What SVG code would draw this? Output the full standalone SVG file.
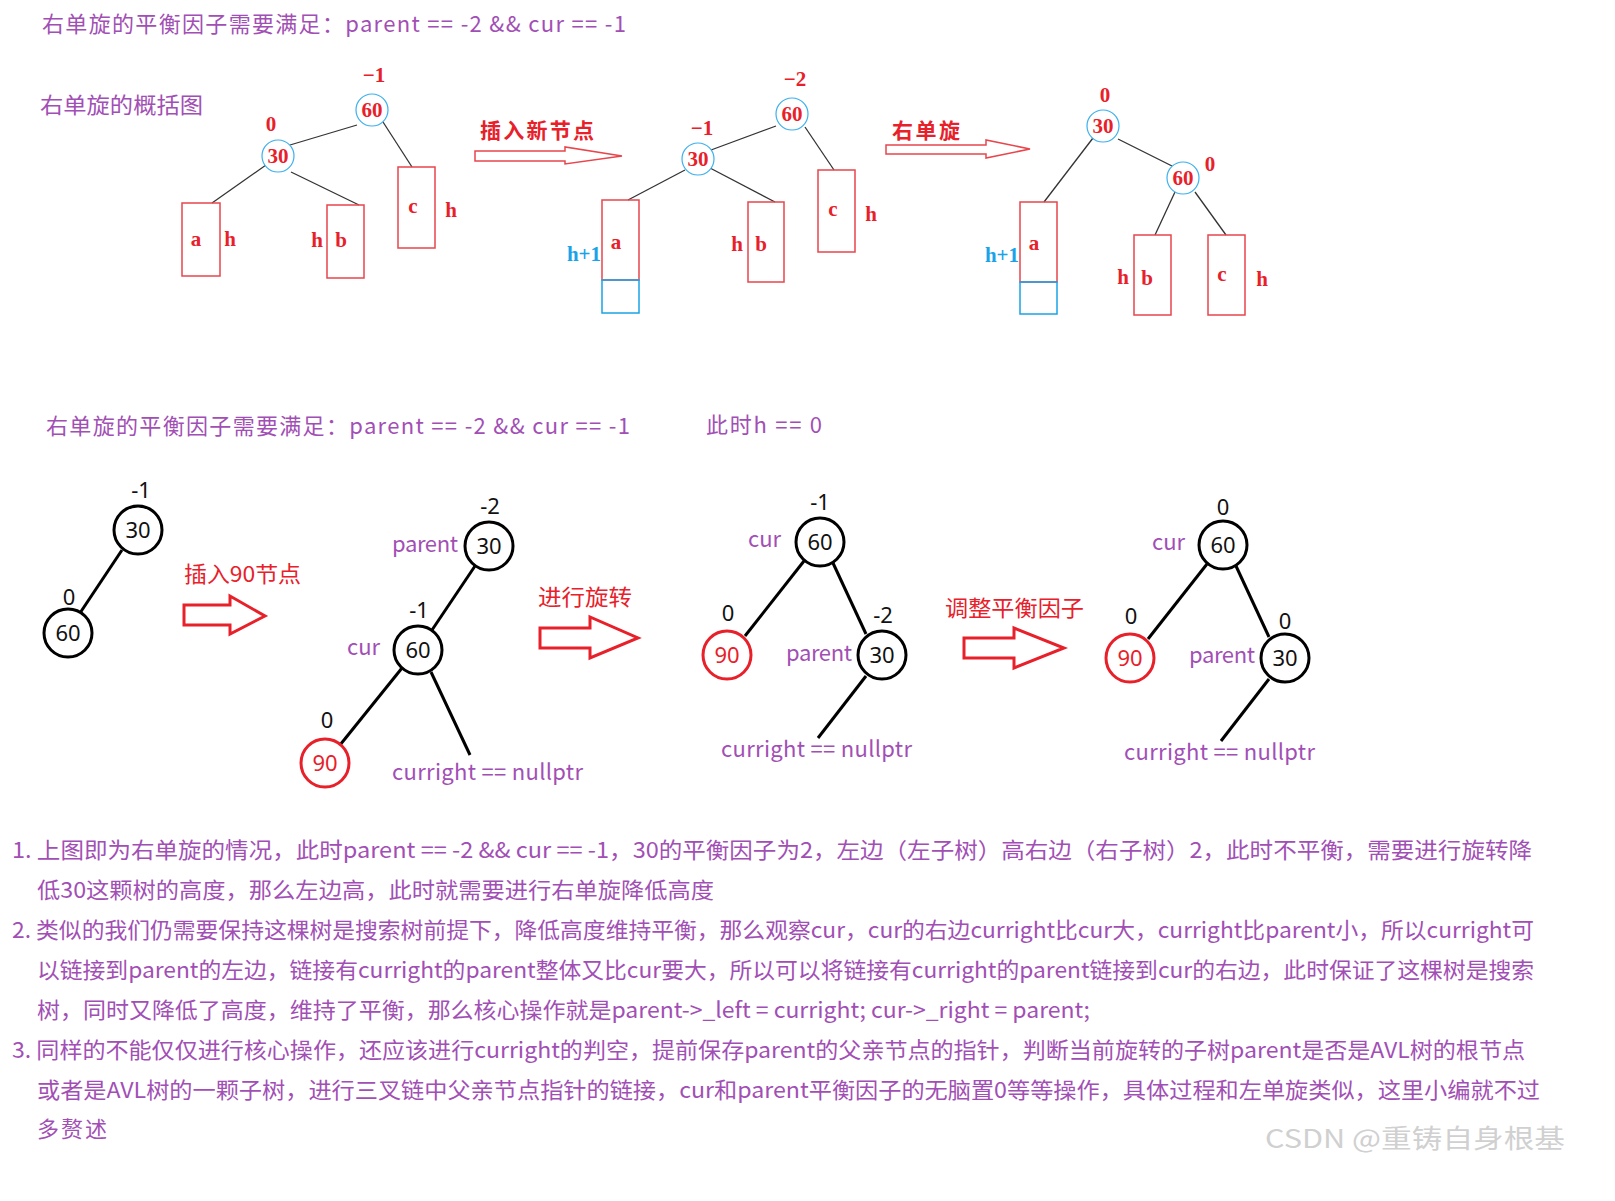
<svg xmlns="http://www.w3.org/2000/svg" width="1615" height="1201" viewBox="0 0 1615 1201">
<style>
.p{font-family:"Noto Sans CJK SC","Noto Sans",sans-serif;fill:#a24fb5;font-size:22px}
.r{font-family:"Noto Sans CJK SC","Noto Sans",sans-serif;fill:#e8202a;font-size:22px}
.s{font-family:"Liberation Serif","Noto Sans CJK SC",serif;fill:#e8202a;font-size:21px;font-weight:bold}
.sb{font-family:"Liberation Serif",serif;fill:#1aa3e8;font-size:21px;font-weight:bold}
.k{font-family:"Noto Sans","Noto Sans CJK SC",sans-serif;fill:#111;font-size:22px}
.kr{font-family:"Noto Sans",sans-serif;fill:#e8202a;font-size:22px}
.bx{fill:none;stroke:#e8454c;stroke-width:1.5}
.bb{fill:none;stroke:#1aa3e8;stroke-width:1.5}
.bc{fill:#fff;stroke:#3bb0ee;stroke-width:1.2}
.tl{stroke:#333;stroke-width:1.3}
.nb{fill:#fff;stroke:#000;stroke-width:3}
.nr{fill:#fff;stroke:#e8202a;stroke-width:3}
.bl{stroke:#000;stroke-width:3}
.ar{fill:#fff;stroke:#e8202a;stroke-width:3}
.at{fill:#fff;stroke:#e8454c;stroke-width:1.5}
.w{font-family:"Noto Sans CJK SC",sans-serif;fill:#d0d0d0;font-size:26px}
</style>
<text class="p" x="42" y="32" textLength="584" lengthAdjust="spacing">右单旋的平衡因子需要满足：parent == -2 &amp;&amp; cur == -1</text>
<text class="p" x="40" y="113" textLength="163" lengthAdjust="spacingAndGlyphs">右单旋的概括图</text>
<g id="connectors">
<line class="tl" x1="290" y1="145" x2="357" y2="125"/>
<line class="tl" x1="383" y1="122" x2="412" y2="167"/>
<line class="tl" x1="266" y1="165" x2="212" y2="203"/>
<line class="tl" x1="291" y1="172" x2="359" y2="205"/>
<line class="tl" x1="685" y1="170" x2="628" y2="200"/>
<line class="tl" x1="710" y1="168" x2="775" y2="202"/>
<line class="tl" x1="711" y1="150" x2="776" y2="126"/>
<line class="tl" x1="805" y1="127" x2="834" y2="170"/>
<line class="tl" x1="1093" y1="138" x2="1044" y2="202"/>
<line class="tl" x1="1118" y1="139" x2="1172" y2="166"/>
<line class="tl" x1="1175" y1="192" x2="1155" y2="235"/>
<line class="tl" x1="1195" y1="192" x2="1226" y2="235"/>
<line class="bl" x1="122" y1="550" x2="80" y2="613"/>
<line class="bl" x1="475" y1="566" x2="432" y2="630"/>
<line class="bl" x1="402" y1="668" x2="340" y2="745"/>
<line class="bl" x1="431" y1="672" x2="470" y2="755"/>
<line class="bl" x1="804" y1="561" x2="745" y2="636"/>
<line class="bl" x1="833" y1="563" x2="866" y2="634"/>
<line class="bl" x1="866" y1="676" x2="818" y2="738"/>
<line class="bl" x1="1207" y1="564" x2="1148" y2="639"/>
<line class="bl" x1="1236" y1="566" x2="1269" y2="637"/>
<line class="bl" x1="1269" y1="679" x2="1221" y2="741"/>
<polygon class="at" points="475,151 565,151 565,147 622,156 565,164 565,161 475,161"/>
<polygon class="at" points="886,145 986,145 986,140 1030,149 986,158 986,154 886,154"/>
<polygon class="ar" points="184,605 230,605 230,596 265,616 230,634 230,625 184,625"/>
<polygon class="ar" points="540,628 590,628 590,617 638,638 590,658 590,648 540,648"/>
<polygon class="ar" points="964,638 1014,638 1014,628 1064,648 1014,668 1014,658 964,658"/>
</g>
<g id="t1">
<circle class="bc" cx="372" cy="110" r="16"/><text class="s" x="372" y="117" text-anchor="middle">60</text>
<text class="s" x="374" y="82" text-anchor="middle">−1</text>
<circle class="bc" cx="278" cy="156" r="16"/><text class="s" x="278" y="163" text-anchor="middle">30</text>
<text class="s" x="271" y="131" text-anchor="middle">0</text>
<rect class="bx" x="182" y="203" width="38" height="73"/><text class="s" x="196" y="246" text-anchor="middle">a</text><text class="s" x="230" y="246" text-anchor="middle">h</text>
<rect class="bx" x="327" y="205" width="37" height="73"/><text class="s" x="317" y="247" text-anchor="middle">h</text><text class="s" x="341" y="247" text-anchor="middle">b</text>
<rect class="bx" x="398" y="167" width="37" height="81"/><text class="s" x="413" y="213" text-anchor="middle">c</text><text class="s" x="451" y="217" text-anchor="middle">h</text>
<text class="s" x="480" y="138" textLength="114" lengthAdjust="spacing">插入新节点</text>
</g>
<g id="t2">
<circle class="bc" cx="792" cy="114" r="16"/><text class="s" x="792" y="121" text-anchor="middle">60</text>
<text class="s" x="795" y="86" text-anchor="middle">−2</text>
<circle class="bc" cx="698" cy="159" r="16"/><text class="s" x="698" y="166" text-anchor="middle">30</text>
<text class="s" x="702" y="135" text-anchor="middle">−1</text>
<rect class="bx" x="602" y="200" width="37" height="80"/><rect class="bb" x="602" y="280" width="37" height="33"/>
<text class="s" x="616" y="249" text-anchor="middle">a</text><text class="sb" x="584" y="261" text-anchor="middle">h+1</text>
<rect class="bx" x="748" y="202" width="36" height="80"/><text class="s" x="737" y="251" text-anchor="middle">h</text><text class="s" x="761" y="251" text-anchor="middle">b</text>
<rect class="bx" x="818" y="170" width="37" height="82"/><text class="s" x="833" y="216" text-anchor="middle">c</text><text class="s" x="871" y="221" text-anchor="middle">h</text>
<text class="s" x="892" y="138" textLength="68" lengthAdjust="spacing">右单旋</text>
</g>
<g id="t3">
<circle class="bc" cx="1103" cy="126" r="16"/><text class="s" x="1103" y="133" text-anchor="middle">30</text>
<text class="s" x="1105" y="102" text-anchor="middle">0</text>
<circle class="bc" cx="1183" cy="178" r="16"/><text class="s" x="1183" y="185" text-anchor="middle">60</text>
<text class="s" x="1210" y="171" text-anchor="middle">0</text>
<rect class="bx" x="1020" y="202" width="37" height="80"/><rect class="bb" x="1020" y="282" width="37" height="32"/>
<text class="s" x="1034" y="250" text-anchor="middle">a</text><text class="sb" x="1002" y="262" text-anchor="middle">h+1</text>
<rect class="bx" x="1134" y="235" width="37" height="80"/><text class="s" x="1123" y="284" text-anchor="middle">h</text><text class="s" x="1147" y="285" text-anchor="middle">b</text>
<rect class="bx" x="1208" y="235" width="37" height="80"/><text class="s" x="1222" y="281" text-anchor="middle">c</text><text class="s" x="1262" y="286" text-anchor="middle">h</text>
</g>
<text class="p" x="46" y="434" textLength="584" lengthAdjust="spacing">右单旋的平衡因子需要满足：parent == -2 &amp;&amp; cur == -1</text>
<text class="p" x="706" y="433" textLength="116" lengthAdjust="spacing">此时h == 0</text>
<g id="b1">
<circle class="nb" cx="138" cy="530" r="24"/><text class="k" x="138" y="538" text-anchor="middle">30</text><text class="k" x="141" y="498" text-anchor="middle">-1</text>
<circle class="nb" cx="68" cy="633" r="24"/><text class="k" x="68" y="641" text-anchor="middle">60</text><text class="k" x="69" y="605" text-anchor="middle">0</text>
<text class="r" x="184" y="582" textLength="117" lengthAdjust="spacingAndGlyphs">插入90节点</text>
</g>
<g id="b2">
<circle class="nb" cx="489" cy="546" r="24"/><text class="k" x="489" y="554" text-anchor="middle">30</text><text class="k" x="490" y="514" text-anchor="middle">-2</text>
<text class="p" x="392" y="552" textLength="66">parent</text>
<circle class="nb" cx="418" cy="650" r="24"/><text class="k" x="418" y="658" text-anchor="middle">60</text><text class="k" x="419" y="618" text-anchor="middle">-1</text>
<text class="p" x="347" y="655">cur</text>
<circle class="nr" cx="325" cy="763" r="24"/><text class="kr" x="325" y="771" text-anchor="middle">90</text><text class="k" x="327" y="728" text-anchor="middle">0</text>
<text class="p" x="392" y="780" textLength="191" lengthAdjust="spacing">curright == nullptr</text>
<text class="r" x="538" y="605" textLength="94" lengthAdjust="spacingAndGlyphs">进行旋转</text>
</g>
<g id="b3">
<circle class="nb" cx="820" cy="542" r="24"/><text class="k" x="820" y="550" text-anchor="middle">60</text><text class="k" x="820" y="510" text-anchor="middle">-1</text>
<text class="p" x="748" y="547">cur</text>
<circle class="nr" cx="727" cy="655" r="24"/><text class="kr" x="727" y="663" text-anchor="middle">90</text><text class="k" x="728" y="621" text-anchor="middle">0</text>
<circle class="nb" cx="882" cy="655" r="24"/><text class="k" x="882" y="663" text-anchor="middle">30</text><text class="k" x="883" y="623" text-anchor="middle">-2</text>
<text class="p" x="786" y="661" textLength="66">parent</text>
<text class="p" x="721" y="757" textLength="191" lengthAdjust="spacing">curright == nullptr</text>
<text class="r" x="945" y="616" textLength="139" lengthAdjust="spacingAndGlyphs">调整平衡因子</text>
</g>
<g id="b4">
<circle class="nb" cx="1223" cy="545" r="24"/><text class="k" x="1223" y="553" text-anchor="middle">60</text><text class="k" x="1223" y="515" text-anchor="middle">0</text>
<text class="p" x="1152" y="550">cur</text>
<circle class="nr" cx="1130" cy="658" r="24"/><text class="kr" x="1130" y="666" text-anchor="middle">90</text><text class="k" x="1131" y="624" text-anchor="middle">0</text>
<circle class="nb" cx="1285" cy="658" r="24"/><text class="k" x="1285" y="666" text-anchor="middle">30</text><text class="k" x="1285" y="629" text-anchor="middle">0</text>
<text class="p" x="1189" y="663" textLength="66">parent</text>
<text class="p" x="1124" y="760" textLength="191" lengthAdjust="spacing">curright == nullptr</text>
</g>
<g id="notes">
<text class="p" x="12" y="858" textLength="1520" lengthAdjust="spacingAndGlyphs">1. 上图即为右单旋的情况，此时parent == -2 &amp;&amp; cur == -1，30的平衡因子为2，左边（左子树）高右边（右子树）2，此时不平衡，需要进行旋转降</text>
<text class="p" x="37" y="898" textLength="677" lengthAdjust="spacingAndGlyphs">低30这颗树的高度，那么左边高，此时就需要进行右单旋降低高度</text>
<text class="p" x="12" y="938" textLength="1522" lengthAdjust="spacingAndGlyphs">2. 类似的我们仍需要保持这棵树是搜索树前提下，降低高度维持平衡，那么观察cur，cur的右边curright比cur大，curright比parent小，所以curright可</text>
<text class="p" x="37" y="978" textLength="1497" lengthAdjust="spacingAndGlyphs">以链接到parent的左边，链接有curright的parent整体又比cur要大，所以可以将链接有curright的parent链接到cur的右边，此时保证了这棵树是搜索</text>
<text class="p" x="37" y="1018" textLength="1053" lengthAdjust="spacingAndGlyphs">树，同时又降低了高度，维持了平衡，那么核心操作就是parent-&gt;_left = curright; cur-&gt;_right = parent;</text>
<text class="p" x="12" y="1058" textLength="1513" lengthAdjust="spacingAndGlyphs">3. 同样的不能仅仅进行核心操作，还应该进行curright的判空，提前保存parent的父亲节点的指针，判断当前旋转的子树parent是否是AVL树的根节点</text>
<text class="p" x="37" y="1098" textLength="1503" lengthAdjust="spacingAndGlyphs">或者是AVL树的一颗子树，进行三叉链中父亲节点指针的链接，cur和parent平衡因子的无脑置0等等操作，具体过程和左单旋类似，这里小编就不过</text>
<text class="p" x="37" y="1137" textLength="70">多赘述</text>
</g>
<text class="w" x="1265" y="1148" textLength="300" lengthAdjust="spacingAndGlyphs">CSDN @重铸自身根基</text>
</svg>
